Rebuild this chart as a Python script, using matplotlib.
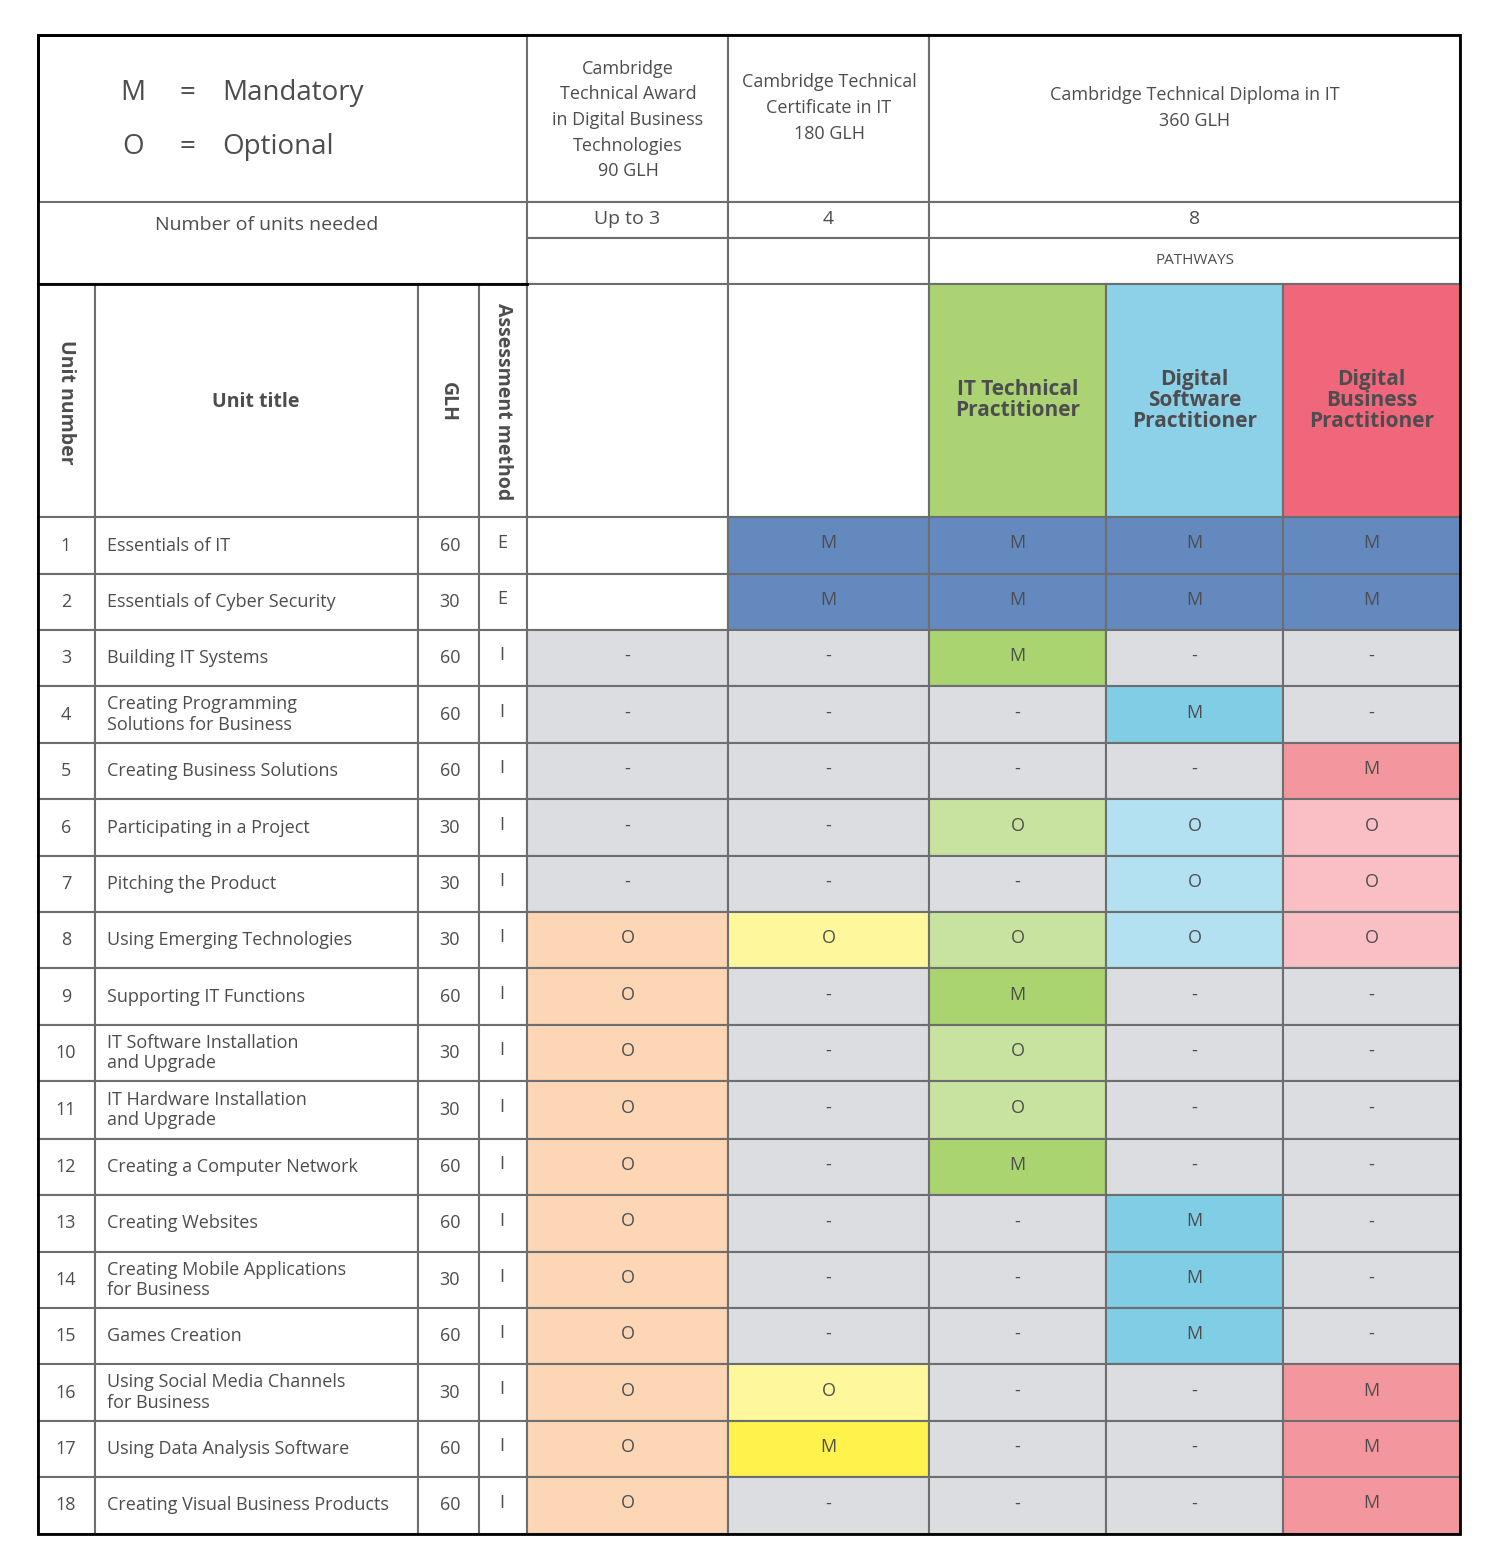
import matplotlib
matplotlib.use('Agg')
import matplotlib.pyplot as plt
from matplotlib.patches import Rectangle

plt.rcParams['font.family'] = ['Open Sans', 'DejaVu Sans']
TXT = '#4d4d4f'
LINE = '#6d6e70'

unit_no = list(range(1, 19))
titles = ['Essentials of IT', 'Essentials of Cyber Security', 'Building IT Systems',
          'Creating Programming\nSolutions for Business', 'Creating Business Solutions',
          'Participating in a Project', 'Pitching the Product', 'Using Emerging Technologies',
          'Supporting IT Functions', 'IT Software Installation\nand Upgrade',
          'IT Hardware Installation\nand Upgrade', 'Creating a Computer Network',
          'Creating Websites', 'Creating Mobile Applications\nfor Business', 'Games Creation',
          'Using Social Media Channels\nfor Business', 'Using Data Analysis Software',
          'Creating Visual Business Products']
glh = [60, 30, 60, 60, 60, 30, 30, 30, 60, 30, 30, 60, 60, 30, 60, 30, 60, 60]
assess = ['E', 'E'] + ['I'] * 16
award = ['', '', '-', '-', '-', '-', '-'] + ['O'] * 11
cert = ['M', 'M', '-', '-', '-', '-', '-', 'O', '-', '-', '-', '-', '-', '-', '-', 'O', 'M', '-']
it_tech = ['M', 'M', 'M', '-', '-', 'O', '-', 'O', 'M', 'O', 'O', 'M', '-', '-', '-', '-', '-', '-']
dig_soft = ['M', 'M', '-', 'M', '-', 'O', 'O', 'O', '-', '-', '-', '-', 'M', 'M', 'M', '-', '-', '-']
dig_bus = ['M', 'M', '-', '-', 'M', 'O', 'O', 'O', '-', '-', '-', '-', '-', '-', '-', 'M', 'M', 'M']

GRAY = '#dcdde0'
BLUE = '#6389bf'
col_colors = [
    {'': 'white', '-': GRAY, 'O': '#fdd6b5'},
    {'-': GRAY, 'O': '#fef79b', 'M': '#fef24b'},
    {'-': GRAY, 'O': '#c8e2a0', 'M': '#a9d470'},
    {'-': GRAY, 'O': '#b3e1f1', 'M': '#80cde6'},
    {'-': GRAY, 'O': '#f9bfc4', 'M': '#f4969e'},
]
path_heads = ['IT Technical\nPractitioner', 'Digital\nSoftware\nPractitioner', 'Digital\nBusiness\nPractitioner']
head_colors = ['#abd373', '#8dd1e8', '#f0677b']

xs = [38, 95, 418, 479, 527, 728, 929, 1106, 1283, 1460]
ys = [517, 574, 630, 686, 743, 799, 856, 912, 968, 1025, 1081, 1139, 1195, 1252, 1308, 1364, 1421, 1477, 1534]

fig = plt.figure(figsize=(15, 15.68), dpi=100)
ax = fig.add_axes([0, 0, 1, 1])
ax.set_xlim(0, 1500)
ax.set_ylim(1568, 0)
ax.axis('off')

def cell(x0, y0, x1, y1, fc='white', lw=1.5, ec=LINE):
    ax.add_patch(Rectangle((x0, y0), x1 - x0, y1 - y0, fc=fc, ec=ec, lw=lw))

def t(x, y, s, **kw):
    kw.setdefault('color', TXT)
    kw.setdefault('fontsize', 13)
    kw.setdefault('ha', 'center')
    ax.text(x, y, s, va='center', **kw)

# header block
cell(38, 35, 527, 202, lw=2, ec='black')
for sym, word, yy in [('M', 'Mandatory', 93), ('O', 'Optional', 147)]:
    t(133, yy, sym, fontsize=20)
    t(187, yy, '=', fontsize=20)
    t(222, yy, word, fontsize=20, ha='left')
cell(527, 35, 728, 202); cell(728, 35, 929, 202); cell(929, 35, 1460, 202)
t(628, 120, 'Cambridge\nTechnical Award\nin Digital Business\nTechnologies\n90 GLH', linespacing=1.55)
t(829, 108, 'Cambridge Technical\nCertificate in IT\n180 GLH', linespacing=1.55)
t(1195, 108, 'Cambridge Technical Diploma in IT\n360 GLH', linespacing=1.55)
cell(38, 202, 527, 284)
t(267, 225, 'Number of units needed', fontsize=14)
for (a, b), s in zip([(527, 728), (728, 929), (929, 1460)], ['Up to 3', '4', '8']):
    cell(a, 202, b, 238); cell(a, 238, b, 284)
    t((a + b) / 2, 219, s, fontsize=14)
t(1195, 260, 'PATHWAYS', fontsize=11)

# column heads
cell(38, 284, 95, 517); cell(95, 284, 418, 517); cell(418, 284, 479, 517); cell(479, 284, 527, 517)
t(66, 402, 'Unit number', rotation=-90, fontweight='bold', fontsize=14)
t(256, 402, 'Unit title', fontweight='bold', fontsize=14)
t(448, 402, 'GLH', rotation=-90, fontweight='bold', fontsize=14)
t(503, 402, 'Assessment method', rotation=-90, fontweight='bold', fontsize=14)
cell(527, 284, 728, 517); cell(728, 284, 929, 517)
for i, (s, c) in enumerate(zip(path_heads, head_colors)):
    a, b = xs[6 + i], xs[7 + i]
    cell(a, 284, b, 517, fc=c)
    t((a + b) / 2, 400, s, fontweight='bold', fontsize=15, linespacing=1.0)

# body
cols = [award, cert, it_tech, dig_soft, dig_bus]
for r in range(18):
    y0, y1 = ys[r], ys[r + 1]
    ym = (y0 + y1) / 2
    cell(38, y0, 95, y1); cell(95, y0, 418, y1); cell(418, y0, 479, y1); cell(479, y0, 527, y1)
    t(66, ym, str(unit_no[r]), fontsize=13)
    t(107, ym, titles[r], ha='left', fontsize=13, linespacing=1.2)
    t(450, ym, str(glh[r]), fontsize=13)
    t(502, ym - 3, assess[r], fontsize=13)
    for c, vals in enumerate(cols):
        v = vals[r]
        fc = BLUE if (r < 2 and v == 'M') else col_colors[c][v]
        a, b = xs[4 + c], xs[5 + c]
        cell(a, y0, b, y1, fc=fc)
        t((a + b) / 2, ym - 2, v, fontsize=13)

# outer frame
ax.add_patch(Rectangle((38, 35), 1422, 1499, fill=False, ec='black', lw=2))
ax.plot([38, 527], [284, 284], color='black', lw=2)

fig.savefig('out.png', dpi=100)
